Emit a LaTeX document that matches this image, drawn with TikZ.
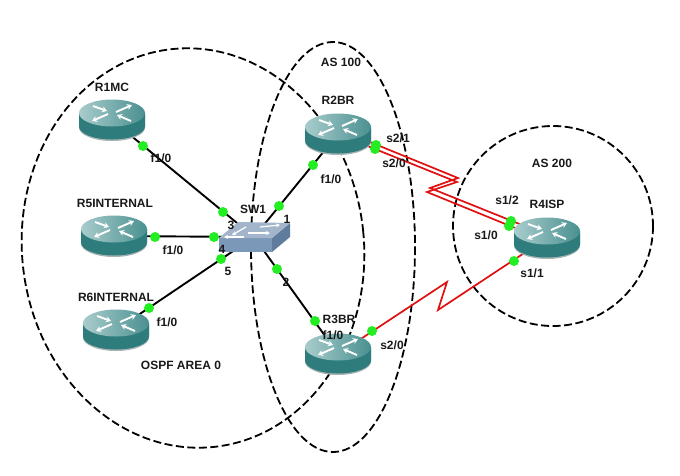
\documentclass[tikz,border=0pt]{standalone}
\usepackage{fontspec}
\setmainfont{Liberation Sans}
\usetikzlibrary{backgrounds,arrows.meta}

\definecolor{routerbody}{HTML}{2F7C7C}
\definecolor{routerlight}{HTML}{A9CCCC}
\definecolor{routerdark}{HTML}{4A9090}
\definecolor{routershade}{HTML}{A8B4B4}
\definecolor{switchtop}{HTML}{A3B5CB}
\definecolor{switchfront}{HTML}{7C98B8}
\definecolor{switchside}{HTML}{5F7C9C}
\definecolor{portgreen}{HTML}{22EE22}
\definecolor{serialred}{HTML}{E01010}

% router icon, drawn inside the node box
\newcommand{\routerart}{%
  \begin{scope}[shift={(path picture bounding box.center)}]
    \fill[routershade] (-33,-6) -- (-33,7.5) arc[start angle=180,end angle=0,x radius=33,y radius=13.5] -- (33,-6) -- cycle;
    \fill[routerbody] (-33,-7) -- (-33,6.5) arc[start angle=180,end angle=0,x radius=33,y radius=13] -- (33,-7) -- cycle;
    \shade[left color=routerlight,right color=routerdark] (0,-7) circle[x radius=33,y radius=13.5];
    \draw[white,line width=1.9pt,-{Stealth[length=5pt,width=6pt]}] (4,-8) -- (20,-15);
    \draw[white,line width=1.9pt,-{Stealth[length=5pt,width=6pt]}] (-4,-6) -- (-20,1);
    \draw[white,line width=1.9pt,-{Stealth[length=5pt,width=6pt]}] (-19,-14) -- (-5,-9);
    \draw[white,line width=1.9pt,-{Stealth[length=5pt,width=6pt]}] (19,1) -- (5,-5);
  \end{scope}}

% switch icon
\newcommand{\switchart}{%
  \begin{scope}[shift={(path picture bounding box.center)}]
    \fill[switchfront] (-35,1) -- (18,1) -- (18,15) -- (-35,15) -- cycle;
    \fill[switchside] (18,1) -- (36,-14) -- (36,0) -- (18,15) -- cycle;
    \fill[switchtop] (-35,1) -- (-16,-15) -- (36,-14) -- (18,1) -- cycle;
    \draw[white,line width=1.2pt,-{Stealth[length=4pt,width=4pt]}] (-8,-10) -- (-22,-2);
    \draw[white,line width=1.2pt,-{Stealth[length=4pt,width=4pt]}] (-6,-4) -- (16,-4);
    \draw[white,line width=1.2pt,-{Stealth[length=4pt,width=4pt]}] (6,-10) -- (26,-12);
    \draw[white,line width=1.2pt,-{Stealth[length=4pt,width=4pt]}] (-10,0) -- (-30,0);
  \end{scope}}

\tikzset{
  routerbox/.style={minimum width=66pt,minimum height=42pt,inner sep=0pt,path picture={\routerart}},
  switchbox/.style={minimum width=72pt,minimum height=31pt,inner sep=0pt,path picture={\switchart}},
  lbl/.style={font=\fontsize{12}{14}\selectfont\bfseries,inner sep=0pt,text=black!90},
  dot/.style={circle,fill=portgreen,minimum size=10pt,inner sep=0pt},
  lan/.style={draw=black,line width=1.9pt},
  serial/.style={draw=serialred,line width=1.7pt},
  zone/.style={draw=black,line width=1.8pt,dash pattern=on 8pt off 3.5pt},
}

\begin{document}
\begin{tikzpicture}[x=1pt,y=-1pt]
  \useasboundingbox (0,0) rectangle (680,475);

  % Routers and switch
  \node[routerbox] (r1mc) at (112,120) {};
  \node[routerbox] (r5int) at (114,236) {};
  \node[routerbox] (r6int) at (116,330) {};
  \node[routerbox] (r2br) at (338,134) {};
  \node[routerbox] (r3br) at (338,354) {};
  \node[routerbox] (r4isp) at (547,238) {};
  \node[switchbox] (sw1) at (254,237) {};

  % Zigzag corners
  \coordinate (z2a) at (458,178);
  \coordinate (z2b) at (430,188);
  \coordinate (z2c) at (457,182);
  \coordinate (z2d) at (427,192);
  \coordinate (z3a) at (447,282);
  \coordinate (z3b) at (438,310);
  \coordinate (r2top) at (365,140);
  \coordinate (r2low) at (365,145);
  \coordinate (r4top) at (522,225);
  \coordinate (r4low) at (520,230);

  \begin{scope}[on background layer]
    % Areas
    \draw[zone] (193,248) circle[x radius=171,y radius=200,rotate=6];
    \draw[zone] (333,247) circle[x radius=82,y radius=205];
    \draw[zone] (553,226) circle[radius=100];

    % Links
    \draw[lan] (r1mc.center) -- (sw1.center);
    \draw[lan] (r5int.center) -- (sw1.center);
    \draw[lan] (r6int.center) -- (sw1.center);
    \draw[lan] (r2br.center) -- (sw1.center);
    \draw[lan] (r3br.center) -- (sw1.center);
    \draw[serial] (r2top) -- (z2a) -- (z2b) -- (r4top);
    \draw[serial] (r2low) -- (z2c) -- (z2d) -- (r4low);
    \draw[serial] (r3br.center) -- (z3a) -- (z3b) -- (r4isp.center);
  \end{scope}

  % Port dots
  \node[dot] (d1) at (143,146) {};
  \node[dot] (d2) at (223,212) {};
  \node[dot] (d3) at (155,237) {};
  \node[dot] (d4) at (214,237) {};
  \node[dot] (d5) at (221,259) {};
  \node[dot] (d6) at (149,308) {};
  \node[dot] (d7) at (279,206) {};
  \node[dot] (d8) at (313,165) {};
  \node[dot] (d9) at (277,269) {};
  \node[dot] (d10) at (315,321) {};
  \node[dot] (d11) at (376,145) {};
  \node[dot] (d12) at (375,149) {};
  \node[dot] (d13) at (511,221) {};
  \node[dot] (d14) at (509,226) {};
  \node[dot] (d15) at (514,261) {};
  \node[dot] (d16) at (372,331) {};

  % Labels
  \node[lbl] (t1) at (112,87) {R1MC};
  \node[lbl] (t2) at (161,158) {f1/0};
  \node[lbl] (t3) at (115,203) {R5INTERNAL};
  \node[lbl] (t4) at (173,250) {f1/0};
  \node[lbl] (t5) at (116,297) {R6INTERNAL};
  \node[lbl] (t6) at (167,322) {f1/0};
  \node[lbl] (t7) at (253,209) {SW1};
  \node[lbl] (t8) at (231,225) {3};
  \node[lbl] (t9) at (287,219) {1};
  \node[lbl] (t10) at (222,249) {4};
  \node[lbl] (t11) at (228,271) {5};
  \node[lbl] (t12) at (286,282) {2};
  \node[lbl] (t13) at (181,365) {OSPF AREA 0};
  \node[lbl] (t14) at (341,62) {AS 100};
  \node[lbl] (t15) at (338,100) {R2BR};
  \node[lbl] (t16) at (331,179) {f1/0};
  \node[lbl] (t17) at (398,138) {s2/1};
  \node[lbl] (t18) at (394,163) {s2/0};
  \node[lbl] (t19) at (339,319) {R3BR};
  \node[lbl] (t20) at (333,335) {f1/0};
  \node[lbl] (t21) at (392,345) {s2/0};
  \node[lbl] (t22) at (552,163) {AS 200};
  \node[lbl] (t23) at (507,200) {s1/2};
  \node[lbl] (t24) at (486,235) {s1/0};
  \node[lbl] (t25) at (547,204) {R4ISP};
  \node[lbl] (t26) at (532,273) {s1/1};
\end{tikzpicture}
\end{document}
